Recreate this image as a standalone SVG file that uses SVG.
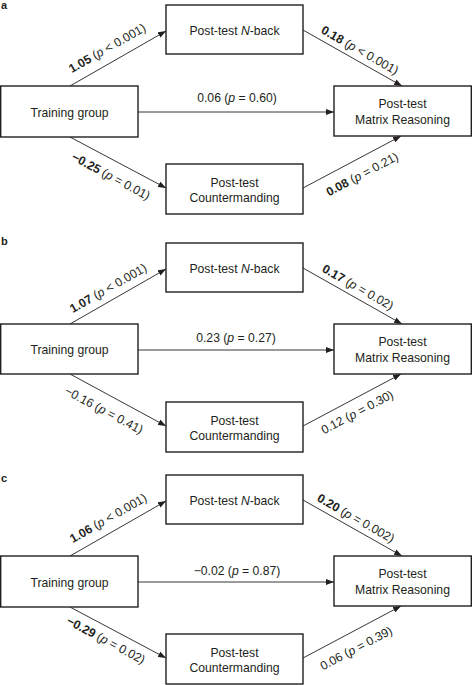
<svg xmlns="http://www.w3.org/2000/svg" width="473" height="685" viewBox="0 0 473 685">
<style>
.box{fill:#fff;stroke:#231f20;stroke-width:1.4}
.ln{stroke:#231f20;stroke-width:0.9;fill:none;marker-end:url(#ah)}
text{font-family:"Liberation Sans",Arial,sans-serif;font-size:12.2px;fill:#231f20}
.c{text-anchor:middle}
.b{font-weight:bold}
.i{font-style:italic}
.pl{font-weight:bold;font-size:11px}
</style>
<defs>
<marker id="ah" viewBox="0 0 8 6" refX="8" refY="3" markerWidth="8" markerHeight="6" markerUnits="userSpaceOnUse" orient="auto">
<path d="M0,0 L8,3 L0,6 Z" fill="#231f20"/>
</marker>
</defs>

<!-- Panel a -->
<g id="panel-a">
<text class="pl" x="1" y="8.5">a</text>
<g id="connectors-a">
<line class="ln" x1="70" y1="86" x2="166" y2="31"/>
<line class="ln" x1="303" y1="30" x2="402" y2="86"/>
<line class="ln" x1="138" y1="112" x2="334" y2="112"/>
<line class="ln" x1="70" y1="137" x2="166" y2="188"/>
<line class="ln" x1="303" y1="188" x2="401" y2="136"/>
</g>
<g id="a-nback"><rect class="box" x="166" y="5" width="137" height="49"/><text class="c" x="234.5" y="34.5">Post-test <tspan class="i">N</tspan>-back</text></g>
<g id="a-training"><rect class="box" x="0.7" y="86" width="137.3" height="51"/><text class="c" x="69.5" y="116.5">Training group</text></g>
<g id="a-matrix"><rect class="box" x="334" y="86" width="137.3" height="50"/><text class="c" x="402.5" y="107.5">Post-test</text><text class="c" x="402.5" y="123.5">Matrix Reasoning</text></g>
<g id="a-counter"><rect class="box" x="166" y="164" width="137" height="50"/><text class="c" x="234.5" y="186.5">Post-test</text><text class="c" x="234.5" y="201.5">Countermanding</text></g>
<g id="a-labels">
<text class="c" transform="translate(107,48) rotate(-29.8)" y="4.4"><tspan class="b">1.05</tspan> (<tspan class="i">p</tspan> &lt; 0.001)</text>
<text class="c" transform="translate(360,50) rotate(29.5)" y="4.4"><tspan class="b">0.18</tspan> (<tspan class="i">p</tspan> &lt; 0.001)</text>
<text class="c" x="237" y="102.4">0.06 (<tspan class="i">p</tspan> = 0.60)</text>
<text class="c" transform="translate(111,176) rotate(28)" y="4.4"><tspan class="b">−0.25</tspan> (<tspan class="i">p</tspan> = 0.01)</text>
<text class="c" transform="translate(362,174) rotate(-27.9)" y="4.4"><tspan class="b">0.08</tspan> (<tspan class="i">p</tspan> = 0.21)</text>
</g>
</g>

<!-- Panel b -->
<g id="panel-b">
<text class="pl" x="1" y="244.5">b</text>
<g id="connectors-b">
<line class="ln" x1="70" y1="324" x2="166" y2="269"/>
<line class="ln" x1="303" y1="268" x2="402" y2="324"/>
<line class="ln" x1="138" y1="350" x2="334" y2="350"/>
<line class="ln" x1="70" y1="374" x2="166" y2="426"/>
<line class="ln" x1="303" y1="426" x2="401" y2="374"/>
</g>
<g id="b-nback"><rect class="box" x="166" y="243" width="137" height="49"/><text class="c" x="234.5" y="272.5">Post-test <tspan class="i">N</tspan>-back</text></g>
<g id="b-training"><rect class="box" x="0.7" y="324" width="137.3" height="50"/><text class="c" x="69.5" y="353.5">Training group</text></g>
<g id="b-matrix"><rect class="box" x="334" y="324" width="137.3" height="50"/><text class="c" x="402.5" y="345.5">Post-test</text><text class="c" x="402.5" y="361.5">Matrix Reasoning</text></g>
<g id="b-counter"><rect class="box" x="166" y="402" width="137" height="50"/><text class="c" x="234.5" y="424.5">Post-test</text><text class="c" x="234.5" y="439.5">Countermanding</text></g>
<g id="b-labels">
<text class="c" transform="translate(108,288) rotate(-29.8)" y="4.4"><tspan class="b">1.07</tspan> (<tspan class="i">p</tspan> &lt; 0.001)</text>
<text class="c" transform="translate(358,287) rotate(29.5)" y="4.4"><tspan class="b">0.17</tspan> (<tspan class="i">p</tspan> = 0.02)</text>
<text class="c" x="236" y="342">0.23 (<tspan class="i">p</tspan> = 0.27)</text>
<text class="c" transform="translate(104,410) rotate(28)" y="4.4">−0.16 (<tspan class="i">p</tspan> = 0.41)</text>
<text class="c" transform="translate(357,412) rotate(-27.9)" y="4.4">0.12 (<tspan class="i">p</tspan> = 0.30)</text>
</g>
</g>

<!-- Panel c -->
<g id="panel-c">
<text class="pl" x="1" y="481.5">c</text>
<g id="connectors-c">
<line class="ln" x1="70" y1="556" x2="166" y2="501"/>
<line class="ln" x1="303" y1="500" x2="402" y2="556"/>
<line class="ln" x1="138" y1="582" x2="334" y2="582"/>
<line class="ln" x1="70" y1="607" x2="166" y2="658"/>
<line class="ln" x1="303" y1="658" x2="401" y2="606"/>
</g>
<g id="c-nback"><rect class="box" x="166" y="475" width="137" height="49"/><text class="c" x="234.5" y="504.5">Post-test <tspan class="i">N</tspan>-back</text></g>
<g id="c-training"><rect class="box" x="0.7" y="556" width="137.3" height="51"/><text class="c" x="69.5" y="586.5">Training group</text></g>
<g id="c-matrix"><rect class="box" x="334" y="556" width="137.3" height="50"/><text class="c" x="402.5" y="577.5">Post-test</text><text class="c" x="402.5" y="593.5">Matrix Reasoning</text></g>
<g id="c-counter"><rect class="box" x="166" y="634" width="137" height="50"/><text class="c" x="234.5" y="656.5">Post-test</text><text class="c" x="234.5" y="671.5">Countermanding</text></g>
<g id="c-labels">
<text class="c" transform="translate(108,518) rotate(-29.8)" y="4.4"><tspan class="b">1.06</tspan> (<tspan class="i">p</tspan> &lt; 0.001)</text>
<text class="c" transform="translate(356,518) rotate(29.5)" y="4.4"><tspan class="b">0.20</tspan> (<tspan class="i">p</tspan> = 0.002)</text>
<text class="c" x="237" y="575">−0.02 (<tspan class="i">p</tspan> = 0.87)</text>
<text class="c" transform="translate(106,640) rotate(28)" y="4.4"><tspan class="b">−0.29</tspan> (<tspan class="i">p</tspan> = 0.02)</text>
<text class="c" transform="translate(356,648) rotate(-27.9)" y="4.4">0.06 (<tspan class="i">p</tspan> = 0.39)</text>
</g>
</g>
</svg>
